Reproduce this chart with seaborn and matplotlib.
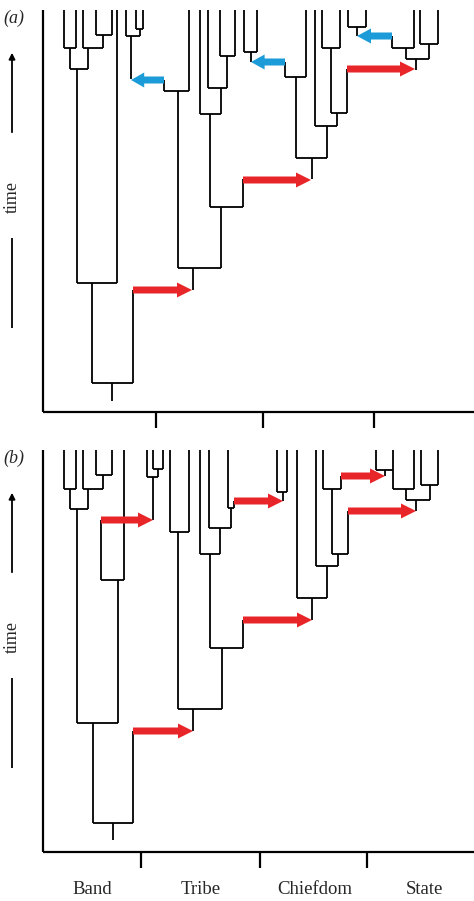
import matplotlib
matplotlib.use("Agg")
import matplotlib.pyplot as plt
import seaborn as sns
from matplotlib.patches import FancyArrow

sns.set_theme(style="white")
plt.rcParams['font.family'] = ['Liberation Serif', 'DejaVu Serif']

# tree branches, in pixel units of the picture (y grows downward)
# vertical: (x, y_top, y_bottom); horizontal: (y, x_left, x_right)
vert_a = [(64, 10, 48), (76, 10, 48), (83, 10, 48), (96, 10, 35), (112, 10, 35), (103, 35, 48),
          (70, 48, 69), (88, 48, 69), (77, 69, 283), (117, 10, 283), (92, 283, 383), (133, 290, 383),
          (112, 383, 401),
          (126, 10, 36), (136, 10, 29), (143, 10, 29), (140, 29, 36), (131, 36, 79), (164, 80, 91),
          (189, 10, 91), (178, 91, 268), (200, 10, 114), (208, 10, 88), (220, 10, 56), (235, 10, 56),
          (227, 56, 88), (221, 88, 114), (210, 114, 207), (243, 179, 207), (221, 207, 268), (193, 268, 290),
          (244, 10, 52), (257, 10, 52), (251, 52, 62), (285, 62, 77), (306, 10, 77), (296, 77, 158),
          (315, 10, 126), (322, 10, 48), (340, 10, 48), (331, 48, 113), (347, 69, 113), (337, 113, 126),
          (327, 126, 158), (312, 158, 179),
          (348, 10, 27), (366, 10, 27), (357, 27, 36), (392, 36, 48), (414, 10, 48), (406, 48, 59),
          (420, 10, 44), (438, 10, 44), (429, 44, 59), (416, 59, 70)]
horz_a = [(35, 96, 112), (48, 83, 103), (48, 64, 76), (69, 70, 88), (283, 77, 117), (383, 92, 133),
          (29, 136, 143), (36, 126, 140), (91, 164, 189), (56, 220, 235), (88, 208, 227), (114, 200, 221),
          (207, 210, 243), (268, 178, 221),
          (52, 244, 257), (77, 285, 306), (48, 322, 340), (113, 331, 347), (126, 315, 337), (158, 296, 327),
          (27, 348, 366), (48, 392, 414), (44, 420, 438), (59, 406, 429)]
# arrows: (x_from, x_to, y)
red_a = [(133, 192, 290), (243, 311, 180), (347, 415, 69)]
blue_a = [(164, 131, 80), (285, 251, 62), (392, 357, 36)]

vert_b = [(64, 450, 489), (76, 450, 489), (83, 450, 489), (96, 450, 475), (112, 450, 475), (103, 475, 489),
          (70, 489, 509), (88, 489, 509), (77, 509, 723), (124, 450, 580), (101, 520, 580), (118, 580, 723),
          (93, 723, 823), (133, 731, 823), (113, 823, 840),
          (147, 450, 477), (153, 450, 469), (163, 450, 469), (158, 469, 477), (153, 477, 520),
          (170, 450, 532), (189, 450, 532), (178, 532, 709), (209, 450, 528), (228, 450, 508),
          (234, 501, 508), (231, 508, 528), (220, 528, 554), (200, 450, 554), (210, 554, 648),
          (243, 620, 648), (222, 648, 709), (193, 709, 731),
          (277, 450, 492), (287, 450, 492), (283, 492, 501), (323, 450, 489), (341, 476, 489),
          (332, 489, 554), (348, 511, 554), (316, 450, 566), (338, 554, 566), (297, 450, 598),
          (327, 566, 598), (312, 598, 620),
          (376, 450, 470), (393, 450, 489), (385, 470, 476), (414, 450, 489), (406, 489, 500),
          (421, 450, 485), (438, 450, 485), (430, 485, 500), (416, 500, 511)]
horz_b = [(475, 96, 112), (489, 83, 103), (489, 64, 76), (509, 70, 88), (580, 101, 124), (723, 77, 118),
          (823, 93, 133),
          (469, 153, 163), (477, 147, 158), (532, 170, 189), (508, 228, 234), (528, 209, 231),
          (554, 200, 220), (648, 210, 243), (709, 178, 222),
          (492, 277, 287), (489, 323, 341), (554, 332, 348), (566, 316, 338), (598, 297, 327),
          (470, 376, 393), (489, 393, 414), (485, 421, 438), (500, 406, 430)]
red_b = [(101, 153, 520), (133, 193, 731), (234, 283, 501), (243, 312, 620), (341, 385, 476), (348, 416, 511)]

categories = ["Band", "Tribe", "Chiefdom", "State"]
cat_x = [92, 201, 315, 424]
ticks_a = [156, 263, 374]
ticks_b = [141, 260, 367]

RED = "#e8262a"
BLUE = "#1b9bd7"

fig = plt.figure(figsize=(4.74, 9.01), dpi=100)
ax = fig.add_axes([0, 0, 1, 1])
ax.set_xlim(0, 474)
ax.set_ylim(901, 0)
ax.axis("off")

for v in vert_a + vert_b:
    ax.vlines(v[0], v[1], v[2], color="black", lw=1.3)
for h in horz_a + horz_b:
    ax.hlines(h[0], h[1], h[2], color="black", lw=1.3)


def fat_arrow(x0, x1, y, color):
    d = x1 - x0
    ax.add_patch(FancyArrow(x0, y, d, 0, width=7, head_width=15, head_length=min(15, abs(d) * 0.4),
                            length_includes_head=True, color=color, lw=0, zorder=3))


for a in red_a + red_b:
    fat_arrow(a[0], a[1], a[2], RED)
for a in blue_a:
    fat_arrow(a[0], a[1], a[2], BLUE)

# axes frames
for top, bottom, ticks, lab in [(10, 412, ticks_a, "(a)"), (450, 852, ticks_b, "(b)")]:
    ax.vlines(43, top, bottom, color="black", lw=1.6)
    ax.hlines(bottom, 43, 474, color="black", lw=1.6)
    ax.vlines(ticks, bottom, bottom + 16, color="black", lw=1.6)
    ax.text(14, top + 8, lab, fontsize=13, style="italic", ha="center", va="center")
    ax.annotate("", xy=(12, top + 40), xytext=(12, top + 125),
                arrowprops=dict(arrowstyle="-|>", color="black", lw=1.3, mutation_scale=9))
    ax.text(12, top + 187, "time", fontsize=13, rotation=90, ha="center", va="center")
    ax.vlines(12, top + 228, top + 318, color="black", lw=1.3)

for c, x in zip(categories, cat_x):
    ax.text(x, 890, c, fontsize=13.5, ha="center", va="center")

fig.savefig("out.png", dpi=100)
